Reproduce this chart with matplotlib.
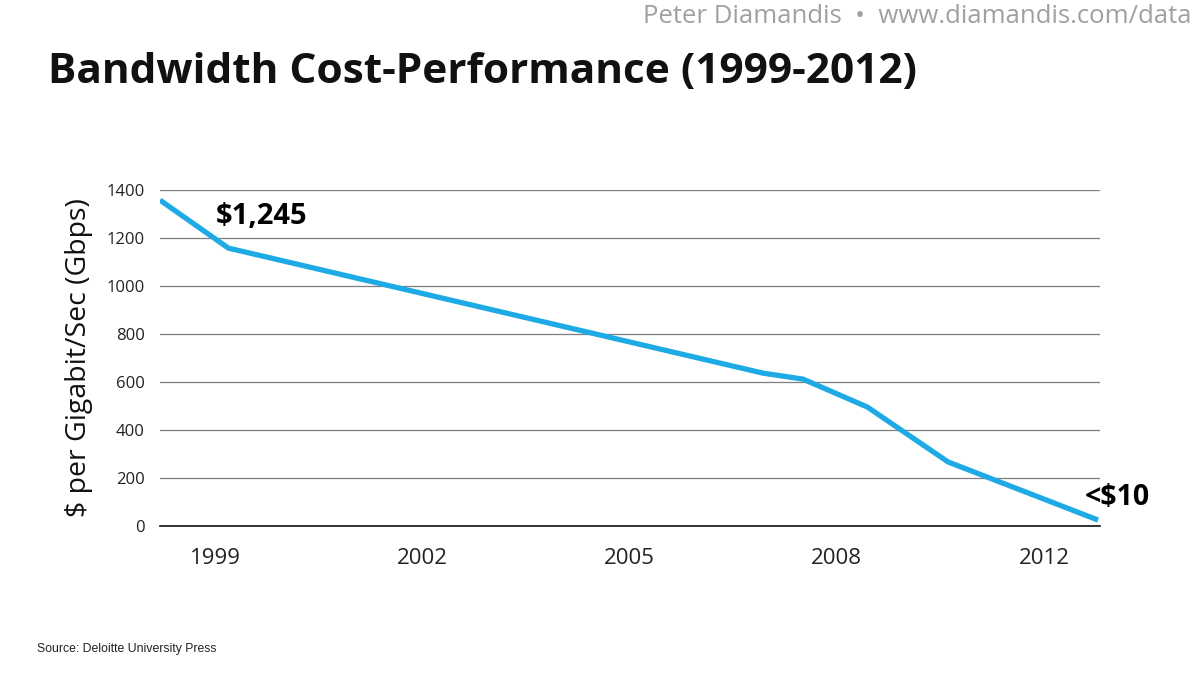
import matplotlib
matplotlib.use('Agg')

import matplotlib.pyplot as plt

plt.rcParams['font.family'] = ['Open Sans', 'DejaVu Sans']

# ===== 数据 =====
# x 为类别轴上的位置（刻度每 3 格一个）
x_pos = [-0.80, 0.19, 7.93, 8.51, 9.44, 10.61, 12.78]
cost = [1358, 1158, 637, 612, 496, 267, 25]
tick_pos = [0, 3, 6, 9, 12]
tick_labels = ['1999', '2002', '2005', '2008', '2012']
y_ticks = [0, 200, 400, 600, 800, 1000, 1200, 1400]

fig = plt.figure(figsize=(12, 6.75), dpi=100)
ax = fig.add_axes([0.1333, 0.2207, 0.7834, 0.4978])

ax.plot(x_pos, cost, color='#1eaae4', linewidth=3.8, solid_capstyle='butt', zorder=3)

ax.set_xlim(-0.80, 12.81)
ax.set_ylim(0, 1400)
ax.set_yticks(y_ticks)
ax.set_yticklabels([str(v) for v in y_ticks], fontsize=12)
ax.set_xticks(tick_pos)
ax.set_xticklabels(tick_labels, fontsize=16)
ax.tick_params(axis='both', length=0, colors='#222222')
ax.tick_params(axis='y', pad=11)
ax.tick_params(axis='x', pad=16)

ax.grid(axis='y', color='#7f7f7f', linewidth=0.9)
ax.set_axisbelow(True)
for s in ['top', 'right', 'left']:
    ax.spines[s].set_visible(False)
ax.spines['bottom'].set_color('#111111')
ax.spines['bottom'].set_linewidth(1.2)

ax.set_ylabel('$ per Gigabit/Sec (Gbps)', fontsize=20.5, labelpad=10, color='#111111')

# 标注首尾数值
ax.annotate('$1,245', xy=(x_pos[1], cost[1]), xytext=(0.67, 1290), textcoords='data',
            fontsize=21, fontweight='bold', ha='center', va='center')
ax.text(13.53, 120, '<$10', fontsize=20.5, fontweight='bold', ha='right', va='center',
        clip_on=False)

# 标题和来源
fig.text(0.04, 0.893, 'Bandwidth Cost-Performance (1999-2012)', fontsize=30.5,
         fontweight='bold', ha='left', va='center', color='#111111')
fig.text(0.993, 0.975, 'Peter Diamandis  \u2022  www.diamandis.com/data', fontsize=18.5,
         color='#a0a0a0', ha='right', va='center')
fig.text(0.031, 0.038, 'Source: Deloitte University Press', fontsize=8.8,
         family='Liberation Sans', color='#222222', ha='left', va='center')

fig.savefig('out.png', dpi=100)
